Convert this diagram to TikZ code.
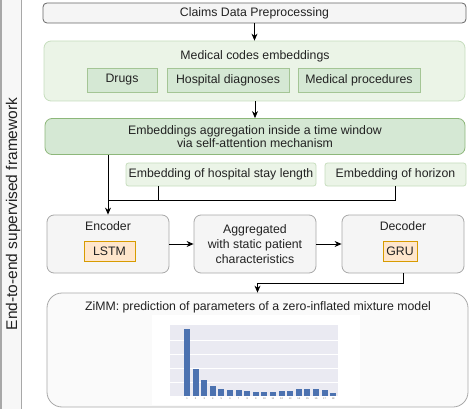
\documentclass[tikz,border=0pt]{standalone}
\usepackage{fontspec}
\setmainfont{Liberation Sans}
\usetikzlibrary{arrows.meta,shadows}
\definecolor{textc}{HTML}{222222}
\definecolor{greyfill}{HTML}{F5F5F5}
\definecolor{greyline}{HTML}{A8A8A8}
\definecolor{darkline}{HTML}{666666}
\definecolor{lgfill}{HTML}{EBF4E7}
\definecolor{lgline}{HTML}{C6DDBD}
\definecolor{mgfill}{HTML}{D5E8D4}
\definecolor{mgline}{HTML}{8DB77A}
\definecolor{orfill}{HTML}{FFE6CC}
\definecolor{orline}{HTML}{D79B00}
\definecolor{plotbg}{HTML}{EAEAF2}
\definecolor{barc}{HTML}{4C72B0}
\begin{document}
\begin{tikzpicture}[x=1pt,y=-1pt,
  font=\fontsize{12.3}{13}\selectfont, text=textc,
  >={Stealth[length=7pt,width=6pt]},
  box/.style={draw, inner sep=0pt, line width=0.8pt},
  greybox/.style={box, fill=greyfill, draw=greyline, rounded corners=7pt},
  lgbox/.style={box, fill=lgfill, draw=lgline, rounded corners=7pt},
  mgbox/.style={box, fill=mgfill, draw=mgline},
  smbox/.style={box, fill=lgfill, draw=lgline, rounded corners=2.5pt},
  orbox/.style={box, fill=orfill, draw=orline, drop shadow={shadow xshift=1.2pt, shadow yshift=-1.2pt, fill=black!35, opacity=0.6}},
  conn/.style={line width=0.9pt, draw=black}
]
\useasboundingbox (0,0) rectangle (474,409);

% side bar
\draw[fill=greyfill!80!white, draw=greyline, line width=1.6pt] (1,-5) rectangle (21.5,415);
\node[rotate=90, font=\fontsize{15.5}{18}\selectfont] (fw) at (13,214) {End-to-end supervised framework};

% claims
\node[greybox, draw=darkline, rounded corners=4pt, minimum width=423pt, minimum height=20pt] (claims) at (254.5,13) {Claims Data Preprocessing};

% medical codes
\node[lgbox, minimum width=421pt, minimum height=60pt] (med) at (254.5,71) {};
\node (medt) at (255,56) {Medical codes embeddings};
\node[mgbox, draw=mgline!80!white, minimum width=70pt, minimum height=24pt] (drugs) at (122,80) {Drugs};
\node[mgbox, draw=mgline!80!white, minimum width=122pt, minimum height=24pt] (hosp) at (228,80) {Hospital diagnoses};
\node[mgbox, draw=mgline!80!white, minimum width=122pt, minimum height=24pt] (proc) at (359,80) {Medical procedures};

% aggregation
\node[mgbox, rounded corners=7pt, minimum width=420pt, minimum height=36pt, align=center] (agg) at (255,136.5) {Embeddings aggregation inside a time window\\[-0.5pt]via self-attention mechanism};

\node[smbox, minimum width=190pt, minimum height=23pt] (stay) at (221,174.5) {Embedding of hospital stay length};
\node[smbox, minimum width=141pt, minimum height=23pt] (hor) at (395.5,174.5) {Embedding of horizon};

% encoder / aggregated / decoder
\node[greybox, minimum width=122pt, minimum height=58pt] (enc) at (108,244) {};
\node (enct) at (108,226) {Encoder};
\node[orbox, minimum width=51pt, minimum height=20pt] (lstm) at (109.5,251) {LSTM};

\node[greybox, minimum width=122pt, minimum height=58pt, align=center, font=\fontsize{12.3}{15}\selectfont] (aggs) at (255,244) {Aggregated\\with static patient\\characteristics};

\node[greybox, minimum width=122pt, minimum height=58pt] (dec) at (403,244) {};
\node (dect) at (403,226) {Decoder};
\node[orbox, minimum width=34pt, minimum height=20pt] (gru) at (400,251) {GRU};

% ZiMM
\node[greybox, fill=greyfill!50!white, rounded corners=15pt, minimum width=421pt, minimum height=114pt] (zimm) at (257.5,350) {};
\node (zimmt) at (258,307) {ZiMM: prediction of parameters of a zero-inflated mixture model};

% chart
\fill[white] (152,315) rectangle (360,405);
\fill[plotbg] (170,325) rectangle (338,396);
\foreach \yy in {340,354,368,382} \draw[white, line width=0.5pt] (170,\yy) -- (338,\yy);
\foreach \h [count=\i] in {67,26.7,16,10,7,6,5.7,4.7,4.3,4.3,4.3,4.7,5,7,7.3,6.7,5.7,2.7} {
  \fill[barc] ({187+(\i-1)*8.6-3},396) rectangle ({187+(\i-1)*8.6+3},{396-\h});
  \node[font=\fontsize{2.5}{3}\selectfont, text=black!60, inner sep=0pt] at ({187+(\i-1)*8.6},399) {\i};
}

% connectors
\draw[conn,->] (claims.south) -- (med.north -| claims.south);
\draw[conn,->] (med.south -| agg.north) -- (agg.north);
\coordinate (j) at (108,200);
\draw[conn,->] (agg.south -| enc.north) -- (enc.north);
\draw[conn] (hor.south) |- (j);
\draw[conn] (stay.south -| 158,0) -- (158,200);
\draw[conn,->] (enc.east) -- (aggs.west);
\draw[conn,->] (aggs.east) -- (dec.east -| dec.west);
\draw[conn,->] (dec.south) -- ++(0,10) -| (zimm.north);
\end{tikzpicture}
\end{document}
